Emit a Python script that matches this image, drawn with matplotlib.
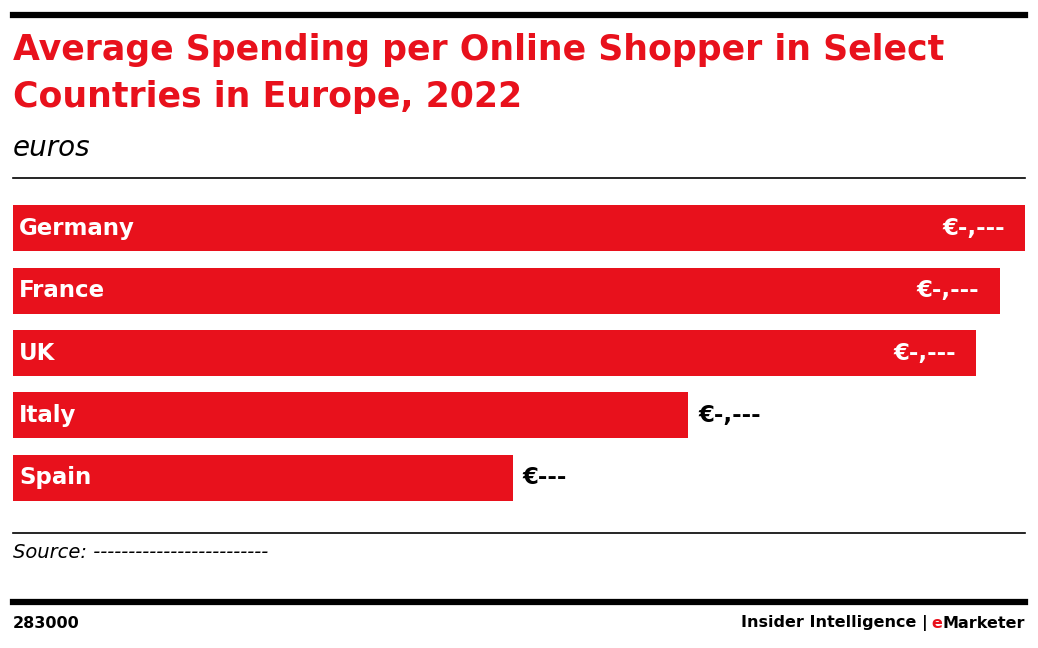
import matplotlib.pyplot as plt
from matplotlib.lines import Line2D

countries = ["Germany", "France", "UK", "Italy", "Spain"]
values = [1600, 1560, 1523, 1067, 790]
value_labels = ["€-,---", "€-,---", "€-,---", "€-,---", "€---"]
inside = [True, True, True, False, False]

W, H = 1038, 648
red = "#e8111c"
fig = plt.figure(figsize=(W / 100, H / 100), dpi=100)

def fx(px):
    return px / W

def fy(py):
    return 1 - py / H

def hline(py, lw):
    fig.add_artist(Line2D([fx(13), fx(1025)], [fy(py), fy(py)], color="black", lw=lw))

hline(15, 4.5)
hline(178, 1.2)
hline(533, 1.2)
hline(602, 4.5)

fig.text(fx(13), fy(50), "Average Spending per Online Shopper in Select",
         color=red, fontsize=25, fontweight="bold", va="center", ha="left")
fig.text(fx(13), fy(97), "Countries in Europe, 2022",
         color=red, fontsize=25, fontweight="bold", va="center", ha="left")
fig.text(fx(13), fy(148), "euros", fontsize=20, style="italic", va="center")
fig.text(fx(13), fy(552), "Source: -------------------------", fontsize=14, style="italic", va="center")
fig.text(fx(13), fy(623), "283000", fontsize=11.5, fontweight="bold", va="center")

em = fig.text(fx(1025), fy(623), "Marketer", fontsize=11.5, fontweight="bold", va="center", ha="right")
r = fig.canvas.get_renderer()
x0 = em.get_window_extent(r).x0
e = fig.text(x0 / W, fy(623), "e", fontsize=11.5, fontweight="bold", va="center", ha="right", color=red)
x1 = e.get_window_extent(r).x0
fig.text(x1 / W - 0.004, fy(623), "Insider Intelligence |", fontsize=11.5, fontweight="bold",
         va="center", ha="right")

ax = fig.add_axes([fx(13), fy(509), fx(1025) - fx(13), (509 - 197) / H])
ypos = list(range(len(countries)))
ax.barh(ypos, values, height=0.74, color=red)
ax.set_xlim(0, max(values))
ax.set_ylim(len(countries) - 0.5, -0.5)
for y, c, v, lab, ins in zip(ypos, countries, values, value_labels, inside):
    ax.text(max(values) * 0.006, y, c, color="white", fontsize=16.5, fontweight="bold", va="center")
    if ins:
        ax.text(v - max(values) * 0.02, y, lab, color="white", fontsize=16.5, fontweight="bold",
                va="center", ha="right")
    else:
        ax.text(v + max(values) * 0.01, y, lab, color="black", fontsize=16.5, fontweight="bold",
                va="center", ha="left")
ax.axis("off")

fig.savefig("out.png", dpi=100)
